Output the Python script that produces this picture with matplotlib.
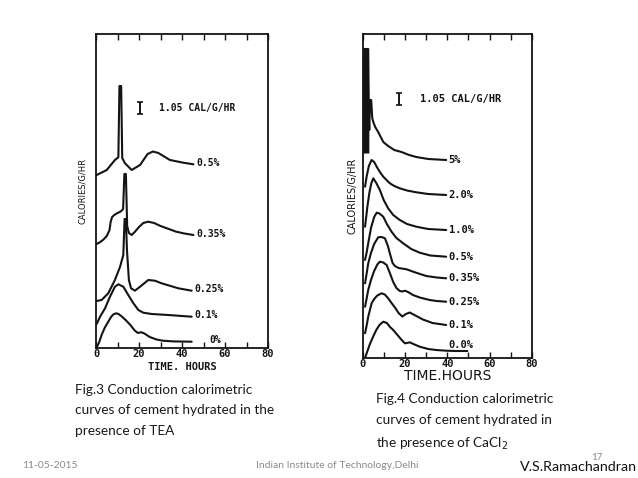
import numpy as np
import matplotlib.pyplot as plt

# ---- Fig.3 (TEA) curves: time in hours, heat in arbitrary (offset) units ----
tea_0_t = [0.3, 1.5, 2.6, 4, 5.7, 7, 8, 9.3, 10.5, 12, 14, 16, 18, 19.5, 21, 22.5, 25, 28, 31, 36, 44.5]
tea_0_q = [0.5, 6, 13, 20, 26.3, 31, 33.5, 34.7, 34, 31.5, 27.5, 23, 17.5, 15, 15.8, 14.5, 11, 8.6, 7.3, 6.6, 6.3]

tea_01_t = [0.3, 1.9, 4.2, 6.5, 8.8, 10.4, 12.7, 15, 17.4, 19.7, 22, 25.9, 33.6, 44.5]
tea_01_q = [24, 31.3, 39.7, 51.3, 61.3, 63.7, 61.3, 53, 44.7, 38, 35.3, 34, 33, 31.3]

tea_025_t = [0.3, 2.6, 5.7, 8.8, 11.2, 12.7, 13.3, 13.9, 14.4, 15.3, 16.3, 18.1, 20.5, 24.3, 27.4, 30.5, 38.3, 44.5]
tea_025_q = [47, 48, 54.7, 68, 81.3, 93, 129, 129, 98, 68, 59.7, 57.3, 61.3, 68, 67.3, 64.7, 59.7, 57.3]

tea_035_t = [0.3, 2, 3.5, 5, 6.3, 6.8, 7.5, 8.5, 10, 11.5, 12.6, 13.2, 13.9, 14.5, 15.3, 16.6, 18, 20, 22,
             24.3, 27, 30, 33, 37, 40.6, 45.3]
tea_035_q = [104, 106, 108.5, 112, 118, 126, 131, 133, 135, 136.5, 139, 174, 174, 122, 115, 113, 116, 121, 125,
             126.3, 125, 122, 119.7, 116.5, 114.7, 113]

tea_05_t = [0.3, 1.9, 5, 8.8, 10.4, 10.9, 11.7, 12.2, 13.5, 16.6, 20.5, 24, 26.5, 29, 34.4, 40.6, 45.3]
tea_05_q = [173, 174.7, 178, 188, 190.7, 262, 262, 190, 184.7, 178, 183, 194, 196.5, 195, 188, 185.3, 183.7]

tea_labels = ["0.5%", "0.35%", "0.25%", "0.1%", "0%"]

# ---- Fig.4 (CaCl2) curves ----
cacl_0_t = [1.2, 2.5, 3.5, 5, 6.5, 8, 9.8, 11.5, 13, 14.5, 16.5, 18.5, 20, 21, 22.3, 24, 27, 31, 34.8, 39.5, 44, 49.5]
cacl_0_q = [0, 8, 14, 21.3, 28, 33, 36.3, 35, 31, 28, 23, 18, 14.7, 15, 15.7, 14, 11.3, 9, 8, 7.3, 7, 7]

cacl_01_t = [1.2, 2.0, 2.7, 3.5, 4.3, 5.5, 7, 9, 10.5, 12, 13.7, 15.5, 17, 18.8, 20.5, 22.3, 24.5, 28.5, 33, 39.5]
cacl_01_q = [24.7, 33, 41.3, 48, 54.7, 59, 62.5, 64.7, 63.5, 60, 55, 50, 45, 41.5, 44, 45.5, 43, 38.5, 35, 33]

cacl_025_t = [1.2, 2, 2.7, 4, 5.5, 7, 8.2, 9.8, 11.4, 12.9, 14.5, 16, 17.6, 18.8, 20, 21.5, 23.8, 27, 31.7, 35, 39.5]
cacl_025_q = [51.3, 60, 68, 78, 87, 93.5, 96.3, 95.5, 93, 85, 76, 70, 67, 66.5, 67.3, 66, 63, 60.5, 58, 57, 56.3]

cacl_035_t = [1.2, 2, 2.7, 4, 5.5, 7.4, 9, 10.6, 12, 12.9, 14.2, 15.3, 17, 20.8, 25, 30.1, 35, 39.5]
cacl_035_q = [74.7, 85, 94.7, 105, 114, 120.7, 121, 119.7, 112, 104.7, 95, 92, 90, 88.7, 85.5, 82, 80.5, 79.7]

cacl_05_t = [1.2, 2, 2.7, 4, 5.5, 6.7, 8, 9.8, 11.5, 13.7, 16, 19.2, 23, 27, 32, 39.5]
cacl_05_q = [98, 106, 114.7, 130, 141, 145.3, 144.5, 141.3, 134, 126.3, 120, 114.7, 109, 105.3, 102.5, 101.3]

cacl_1_t = [1.2, 1.8, 2.3, 3.3, 4.2, 5.1, 6.5, 8.2, 10, 12.1, 14.5, 17.6, 21, 25.4, 31, 39.5]
cacl_1_q = [131.3, 142, 151.3, 166, 175, 179.7, 175, 168, 158, 149.7, 143, 138, 134, 131.3, 129, 128]

cacl_2_t = [1.2, 2, 3, 4.3, 5.5, 6.7, 8.2, 9.8, 12.9, 15, 17.6, 21, 25.4, 31, 39.5]
cacl_2_q = [171.3, 182, 192, 198, 196, 191.3, 186, 181.3, 174.7, 172, 169.7, 167.5, 165.7, 164, 163]

cacl_5_t = [0.3, 0.4, 0.6, 2.7, 3.0, 3.2, 3.6, 4.1, 4.6, 5.1, 6, 7.4, 9.8, 12.1, 15, 18.4, 22, 25.4, 31, 39.5]
cacl_5_q = [205, 300, 309, 309, 240, 228, 258, 258, 240, 236, 231, 226, 216, 212, 208, 206, 203, 201, 199, 198]

cacl_labels = ["5%", "2.0%", "1.0%", "0.5%", "0.35%", "0.25%", "0.1%", "0.0%"]

xtick_vals = [0, 20, 40, 60, 80]

ink = '#141414'
mono = 'DejaVu Sans Mono'
narrow = ['Liberation Sans Narrow', 'DejaVu Sans']
slide_font = ['Lato', 'DejaVu Sans']

fig = plt.figure(figsize=(6.38, 4.78), dpi=100)


def setup_axes(ax, ytop, tick_fs):
    ax.set_xlim(0, 80)
    ax.set_ylim(0, ytop)
    ax.set_yticks([])
    ax.set_xticks(xtick_vals)
    ax.set_xticks(np.arange(10, 80, 10), minor=True)
    ax.set_xticklabels([str(v) for v in xtick_vals], fontfamily=mono,
                       fontweight='bold', fontsize=tick_fs, color=ink)
    ax.tick_params(axis='x', which='both', direction='in', top=True,
                   length=4, width=1.0, color=ink, pad=1)
    for s in ax.spines.values():
        s.set_linewidth(1.3)
        s.set_color(ink)


def scale_bar(ax, x, y, half, text_x, fs):
    ax.errorbar([x], [y], yerr=[half], fmt='none', ecolor=ink,
                elinewidth=1.4, capsize=2.5, capthick=1.2)
    ax.text(text_x, y, "1.05 CAL/G/HR", fontfamily=mono, fontweight='bold',
            fontsize=fs, color=ink, va='center', ha='left')


# ---------------- left panel ----------------
ax1 = fig.add_axes([96 / 638, 1 - 348 / 478, 172 / 638, 314 / 478])
setup_axes(ax1, 314, 7.5)
tea_curves = [(tea_05_t, tea_05_q), (tea_035_t, tea_035_q), (tea_025_t, tea_025_q),
              (tea_01_t, tea_01_q), (tea_0_t, tea_0_q)]
for (t, q), lab in zip(tea_curves, tea_labels):
    ax1.plot(t, q, color=ink, lw=1.5, solid_joinstyle='round', solid_capstyle='round')
    off = 13 if lab == "0%" else 2
    ax1.annotate(lab, (t[-1], q[-1]), xytext=(off, 1), textcoords='offset points',
                 fontfamily=mono, fontweight='bold', fontsize=7, color=ink, va='center')
scale_bar(ax1, 20.5, 240, 6, 29.5, 7)
ax1.set_xlabel("TIME. HOURS", fontfamily=mono, fontweight='bold', fontsize=7.5,
               color=ink, labelpad=2)
ax1.set_ylabel("CALORIES/G/HR", fontfamily=narrow, fontsize=6, color=ink)
ax1.yaxis.set_label_coords(-0.05, 0.5)

# ---------------- right panel ----------------
ax2 = fig.add_axes([362.5 / 638, 1 - 358 / 478, 169.5 / 638, 324 / 478])
setup_axes(ax2, 324, 7.5)
cacl_curves = [(cacl_5_t, cacl_5_q), (cacl_2_t, cacl_2_q), (cacl_1_t, cacl_1_q),
               (cacl_05_t, cacl_05_q), (cacl_035_t, cacl_035_q), (cacl_025_t, cacl_025_q),
               (cacl_01_t, cacl_01_q), (cacl_0_t, cacl_0_q)]
for (t, q), lab in zip(cacl_curves, cacl_labels):
    ax2.plot(t, q, color=ink, lw=1.5, solid_joinstyle='round', solid_capstyle='round')
    dy = 4 if lab == "0.0%" else 0
    ax2.annotate(lab, (40, q[-1]), xytext=(1, dy), textcoords='offset points',
                 fontfamily=mono, fontweight='bold', fontsize=7.5, color=ink, va='center')
# the first 5% peak prints as a solid black block in the scan
ax2.fill_between(cacl_5_t[:5], cacl_5_q[:5], cacl_5_q[0], color=ink, lw=0)
scale_bar(ax2, 17, 259, 6, 27, 7.5)
ax2.set_xlabel("TIME.HOURS", fontsize=10, color=ink, labelpad=0)
ax2.set_ylabel("CALORIES/G/HR", fontfamily=narrow, fontsize=7, color=ink)
ax2.yaxis.set_label_coords(-0.03, 0.5)

# ---------------- slide text ----------------
fig.text(75 / 638, 1 - 384 / 478,
         "Fig.3 Conduction calorimetric\ncurves of cement hydrated in the\npresence of TEA",
         fontfamily=slide_font, fontsize=9.8, color='#1a1a1a', va='top', ha='left', linespacing=1.85)
fig.text(376 / 638, 1 - 393 / 478,
         "Fig.4 Conduction calorimetric\ncurves of cement hydrated in\nthe presence of CaCl$_2$",
         fontfamily=slide_font, fontsize=9.8, color='#1a1a1a', va='top', ha='left', linespacing=1.85)
fig.text(22 / 638, 1 - 465 / 478, "11-05-2015", fontfamily=slide_font, fontsize=7.5,
         color='#8a8a8a', va='center', ha='left')
fig.text(337 / 638, 1 - 465 / 478, "Indian Institute of Technology,Delhi", fontfamily=slide_font,
         fontsize=7.5, color='#8a8a8a', va='center', ha='center')
fig.text(597 / 638, 1 - 457 / 478, "17", fontfamily=slide_font, fontsize=7,
         color='#8a8a8a', va='center', ha='center')
fig.text(637 / 638, 1 - 467 / 478, "V.S.Ramachandran", fontfamily=slide_font, fontsize=10.3,
         color='#111111', va='center', ha='right')

fig.savefig("out.png", dpi=100)
